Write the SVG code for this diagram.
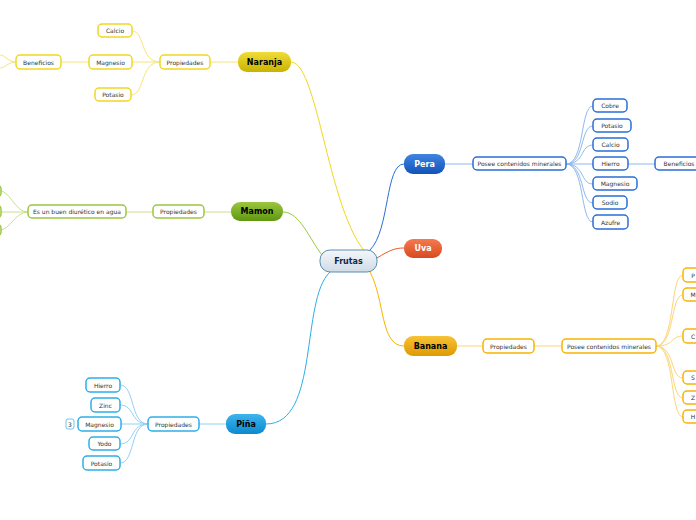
<svg xmlns="http://www.w3.org/2000/svg" width="696" height="520" viewBox="0 0 696 520">
<defs>
<linearGradient id="gC" x1="0" y1="0" x2="0" y2="1"><stop offset="0" stop-color="#f4f7fa"/><stop offset="1" stop-color="#cfdbe6"/></linearGradient>
<linearGradient id="gY" x1="0" y1="0" x2="0" y2="1"><stop offset="0" stop-color="#f0dc3a"/><stop offset="1" stop-color="#c9b300"/></linearGradient>
<linearGradient id="gG" x1="0" y1="0" x2="0" y2="1"><stop offset="0" stop-color="#9cc640"/><stop offset="1" stop-color="#5f9710"/></linearGradient>
<linearGradient id="gB" x1="0" y1="0" x2="0" y2="1"><stop offset="0" stop-color="#3f86e0"/><stop offset="1" stop-color="#1352b8"/></linearGradient>
<linearGradient id="gR" x1="0" y1="0" x2="0" y2="1"><stop offset="0" stop-color="#f47a50"/><stop offset="1" stop-color="#d94a1e"/></linearGradient>
<linearGradient id="gO" x1="0" y1="0" x2="0" y2="1"><stop offset="0" stop-color="#f7c236"/><stop offset="1" stop-color="#df9a00"/></linearGradient>
<linearGradient id="gL" x1="0" y1="0" x2="0" y2="1"><stop offset="0" stop-color="#3cb4ee"/><stop offset="1" stop-color="#0c8ad0"/></linearGradient>
</defs>
<style>
text{font-family:"DejaVu Sans",sans-serif;text-anchor:middle;dominant-baseline:central}
.s{font-size:6px;fill:#333}
.m{font-size:8px;font-weight:bold}
.w{fill:#fff}
.ln{fill:none;stroke-width:1}
.y{stroke:#f0d820}.g{stroke:#9cc640}.b{stroke:#2a6fd8}.o{stroke:#f7b500}.l{stroke:#2eaee8}
.ly{stroke:#f5e57a}.lg{stroke:#c9e08c}.lb{stroke:#8fb8ee}.lo{stroke:#fbd67a}.ll{stroke:#8fd2f4}
.n{fill:#fff;stroke-width:1.5}
</style>
<g id="connectors">
<path class="ln y" d="M377 261 C330 240 320 62 291 62"/>
<path class="ln g" d="M322 255 C310 240 300 212 283 212"/>
<path class="ln b" d="M370 250 C390 230 385 164 404 164"/>
<path class="ln" stroke="#e85a30" d="M377 258 C390 250 395 248 404 248"/>
<path class="ln o" d="M370 272 C385 300 380 346 404 346"/>
<path class="ln l" d="M330 272 C300 300 320 424 266 424"/>
<path class="ln ly" d="M238 62H210M160 62H132M160 62C140 62 145 31 132 31M160 62C140 62 145 95 131 95M89 62H61M16 62C8 62 5 55 0 55M16 62C8 62 5 68 0 68"/>
<path class="ln lg" d="M231 212H204M153 212H126M28 212C15 212 10 191 0 191M28 212H0M28 212C15 212 10 230 0 230"/>
<path class="ln lb" d="M445 164H473M566 164C585 164 580 106 593 106M566 164C585 164 580 126 593 126M566 164C585 164 580 145 593 145M566 164H593M566 164C585 164 580 184 593 184M566 164C585 164 580 203 593 203M566 164C585 164 580 222 593 222M628 164H655"/>
<path class="ln lo" d="M457 346H483M534 346H562M656 346C675 346 670 275 683 275M656 346C675 346 670 295 683 295M656 346C675 346 670 336 683 336M656 346C675 346 670 378 683 378M656 346C675 346 670 398 683 398M656 346C675 346 670 417 683 417"/>
<path class="ln ll" d="M226 424H199M148 424C130 424 135 385 120 385M148 424C130 424 135 405 120 405M148 424H121M148 424C130 424 135 444 120 444M148 424C130 424 135 463 120 463"/>
</g>
<g id="frutas"><rect x="320" y="250" width="57" height="22" rx="10" fill="url(#gC)" stroke="#5a8db0" stroke-width="1"/><text class="m" x="348.5" y="261" fill="#10264a">Frutas</text></g>
<g id="naranja"><rect x="238" y="52" width="53" height="20" rx="9" fill="url(#gY)"/><text class="m" x="264.5" y="62">Naranja</text></g>
<g id="n-prop"><rect class="n y" x="160" y="55" width="50" height="14" rx="4"/><text class="s" x="185" y="62">Propiedades</text></g>
<g id="n-calcio"><rect class="n y" x="98" y="24" width="34" height="13" rx="4"/><text class="s" x="115" y="30.5">Calcio</text></g>
<g id="n-mag"><rect class="n y" x="89" y="55" width="43" height="14" rx="4"/><text class="s" x="110.5" y="62">Magnesio</text></g>
<g id="n-pot"><rect class="n y" x="95" y="88" width="36" height="13" rx="4"/><text class="s" x="113" y="94.5">Potasio</text></g>
<g id="n-ben"><rect class="n y" x="16" y="55" width="45" height="14" rx="4"/><text class="s" x="38.5" y="62">Beneficios</text></g>
<g id="mamon"><rect x="231" y="202" width="52" height="19" rx="9" fill="url(#gG)"/><text class="m" x="257" y="211.5">Mamon</text></g>
<g id="m-prop"><rect class="n g" x="153" y="205" width="51" height="13" rx="4"/><text class="s" x="178.5" y="211.5">Propiedades</text></g>
<g id="m-diur"><rect class="n g" x="28" y="205" width="98" height="13" rx="4"/><text class="s" x="77" y="211.5">Es un buen diurético en agua</text></g>
<g id="m-c1"><rect class="n g" x="-10" y="185" width="11" height="12" rx="4"/></g>
<g id="m-c2"><rect class="n g" x="-10" y="205" width="11" height="13" rx="4"/></g>
<g id="m-c3"><rect class="n g" x="-10" y="224" width="11" height="12" rx="4"/></g>
<g id="pera"><rect x="404" y="154" width="41" height="20" rx="9" fill="url(#gB)"/><text class="m w" x="424.5" y="164">Pera</text></g>
<g id="p-posee"><rect class="n b" x="473" y="157" width="93" height="13" rx="4"/><text class="s" x="519.5" y="163.5">Posee contenidos minerales</text></g>
<g id="p-cobre"><rect class="n b" x="593" y="99" width="34" height="13" rx="4"/><text class="s" x="610" y="105.5">Cobre</text></g>
<g id="p-pot"><rect class="n b" x="593" y="119" width="38" height="13" rx="4"/><text class="s" x="612" y="125.5">Potasio</text></g>
<g id="p-cal"><rect class="n b" x="593" y="138" width="35" height="13" rx="4"/><text class="s" x="610.5" y="144.5">Calcio</text></g>
<g id="p-hie"><rect class="n b" x="593" y="157" width="35" height="13" rx="4"/><text class="s" x="610.5" y="163.5">Hierro</text></g>
<g id="p-mag"><rect class="n b" x="593" y="177" width="44" height="13" rx="4"/><text class="s" x="615" y="183.5">Magnesio</text></g>
<g id="p-sod"><rect class="n b" x="593" y="196" width="34" height="13" rx="4"/><text class="s" x="610" y="202.5">Sodio</text></g>
<g id="p-azu"><rect class="n b" x="593" y="215" width="35" height="14" rx="4"/><text class="s" x="610.5" y="222">Azufre</text></g>
<g id="p-ben"><rect class="n b" x="655" y="157" width="50" height="13" rx="4"/><text class="s" x="679" y="163.5">Beneficios</text></g>
<g id="uva"><rect x="404" y="239" width="38" height="19" rx="9" fill="url(#gR)"/><text class="m w" x="423" y="248.5">Uva</text></g>
<g id="banana"><rect x="404" y="336" width="53" height="20" rx="9" fill="url(#gO)"/><text class="m" x="430.5" y="346">Banana</text></g>
<g id="b-prop"><rect class="n o" x="483" y="339" width="51" height="14" rx="4"/><text class="s" x="508.5" y="346">Propiedades</text></g>
<g id="b-posee"><rect class="n o" x="562" y="339" width="94" height="14" rx="4"/><text class="s" x="609" y="346">Posee contenidos minerales</text></g>
<g id="b-p"><rect class="n o" x="683" y="268" width="30" height="14" rx="4"/><text class="s" x="693" y="275">P</text></g>
<g id="b-m"><rect class="n o" x="683" y="288" width="30" height="13" rx="4"/><text class="s" x="693" y="294.5">M</text></g>
<g id="b-c"><rect class="n o" x="683" y="329" width="30" height="14" rx="4"/><text class="s" x="693" y="336">C</text></g>
<g id="b-s"><rect class="n o" x="683" y="371" width="30" height="13" rx="4"/><text class="s" x="693" y="377.5">S</text></g>
<g id="b-z"><rect class="n o" x="683" y="391" width="30" height="13" rx="4"/><text class="s" x="693" y="397.5">Z</text></g>
<g id="b-h"><rect class="n o" x="683" y="410" width="30" height="13" rx="4"/><text class="s" x="693" y="416.5">H</text></g>
<g id="pina"><rect x="226" y="414" width="40" height="20" rx="9" fill="url(#gL)"/><text class="m" x="246" y="424">Piña</text></g>
<g id="pi-prop"><rect class="n l" x="148" y="417" width="51" height="14" rx="4"/><text class="s" x="173.5" y="424">Propiedades</text></g>
<g id="pi-hie"><rect class="n l" x="86" y="378" width="34" height="14" rx="4"/><text class="s" x="103" y="385">Hierro</text></g>
<g id="pi-zinc"><rect class="n l" x="91" y="398" width="29" height="14" rx="4"/><text class="s" x="105.5" y="405">Zinc</text></g>
<g id="pi-mag"><rect class="n l" x="78" y="417" width="43" height="14" rx="4"/><text class="s" x="99.5" y="424">Magnesio</text></g>
<g id="pi-badge"><rect x="66" y="419" width="8" height="10" rx="2" fill="#fff" stroke="#2eaee8" stroke-width="0.7"/><text class="s" x="70" y="424">3</text></g>
<g id="pi-yodo"><rect class="n l" x="89" y="437" width="31" height="13" rx="4"/><text class="s" x="104.5" y="443.5">Yodo</text></g>
<g id="pi-pot"><rect class="n l" x="83" y="456" width="37" height="14" rx="4"/><text class="s" x="101.5" y="463">Potasio</text></g>
</svg>
